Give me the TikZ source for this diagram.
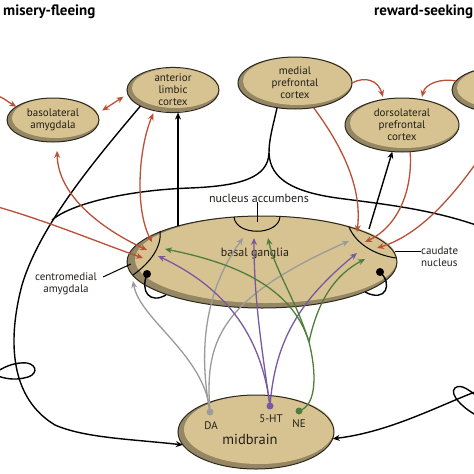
\documentclass[tikz,border=0pt]{standalone}
\usepackage{fontspec}
\setmainfont{PT Sans}
\usetikzlibrary{shapes.geometric,arrows.meta,calc}
\definecolor{tanc}{RGB}{215,195,145}
\definecolor{shadc}{RGB}{150,135,100}
\definecolor{outc}{RGB}{45,40,30}
\definecolor{textc}{RGB}{35,30,25}
\definecolor{redc}{RGB}{185,80,55}
\definecolor{purc}{RGB}{120,90,160}
\definecolor{grnc}{RGB}{80,125,60}
\definecolor{grayc}{RGB}{155,155,155}
\tikzset{
  txt/.style={font=\fontsize{11}{12}\selectfont, text=textc, align=center, inner sep=0pt},
  midtxt/.style={font=\fontsize{12}{13}\selectfont, text=textc, align=center, inner sep=0pt},
  bigtxt/.style={font=\fontsize{14.5}{16}\selectfont, text=textc, align=center, inner sep=0pt},
  title/.style={font=\fontsize{15}{17}\selectfont\bfseries, text=black, anchor=west, inner sep=0pt},
  blk/.style={draw=black, line width=1.4pt},
  tipk/.style={-{Stealth[length=7pt,width=6pt]}},
  redarr/.style={draw=redc, line width=1.3pt, -{Stealth[length=7pt,width=6pt]}},
  redboth/.style={draw=redc, line width=1.3pt, {Stealth[length=7pt,width=6pt]}-{Stealth[length=7pt,width=6pt]}},
  purarr/.style={draw=purc, line width=1.3pt, -{Stealth[length=7pt,width=6pt]}},
  grnarr/.style={draw=grnc, line width=1.3pt, -{Stealth[length=7pt,width=6pt]}},
  grayarr/.style={draw=grayc, line width=1.3pt, -{Stealth[length=7pt,width=6pt]}},
  sub/.style={draw=black, line width=1pt},
  dotn/.style={circle, inner sep=0pt, minimum size=7pt},
}
\newcommand\regionnode[8]{%
  \fill[shadc] (#2,#3) ellipse [x radius=#4, y radius=#5];
  \fill[tanc] (#2+#6,#3-#7) ellipse [x radius=#4-#6, y radius=#5-#7];
  \node[ellipse, draw=outc, line width=1pt, minimum width=2*#4, minimum height=2*#5,
        inner sep=0pt, outer sep=0pt, txt] (#1) at (#2,#3) {#8};
}
\begin{document}
\begin{tikzpicture}[x=1pt,y=-1pt]
\useasboundingbox (0,0) rectangle (474,474);
\fill[white] (0,0) rectangle (474,474);
\clip (0,0) rectangle (474,474);

% titles
\node[title] (t1) at (3,12) {misery-fleeing};
\node[title] (t2) at (374,12) {reward-seeking};

% regions
\regionnode{bg}{262}{262}{135}{46}{4}{2.5}{}
\regionnode{mid}{256}{432}{78}{37}{3}{2.5}{}
\regionnode{bla}{53}{120}{46}{22}{2.5}{2}{basolateral\\amygdala}
\regionnode{alc}{173}{90}{46}{22}{2.5}{2}{anterior\\limbic\\cortex}
\regionnode{mpfc}{295}{83}{57}{26}{2.5}{2}{medial\\prefrontal\\cortex}
\regionnode{dlpfc}{402}{125}{57}{27}{2.5}{2}{dorsolateral\\prefrontal\\cortex}
\regionnode{rnode}{507}{90}{55}{24}{2.5}{2}{}

% sub-region borders inside basal ganglia
\draw[sub] (160,231) .. controls (162,247) and (150,263) .. (133,275);
\draw[sub] (234,217) .. controls (236,236) and (278,236) .. (280,217);
\draw[sub] (349,227) .. controls (356,244) and (375,255) .. (396,258);

% named target points
\coordinate (cea1) at (152,242);
\coordinate (cea2) at (147,250);
\coordinate (cea3) at (143,258);
\coordinate (ceagr) at (133,281);
\coordinate (ceapu) at (158,256);
\coordinate (ceagn) at (165,249);
\coordinate (nacgr) at (243,238);
\coordinate (nacpu) at (254,238);
\coordinate (nacgn) at (268,238);
\coordinate (cau1) at (357,232);
\coordinate (cau2) at (365,242);
\coordinate (cau3) at (377,248);
\coordinate (caugr) at (349,241);
\coordinate (caupu) at (357,253);
\coordinate (caugn) at (365,259);
\coordinate (bgtop) at (178,226);
\coordinate (caudtop) at (369,229);
\coordinate (join) at (52,220);
\coordinate (split) at (269,153);
\coordinate (lin1) at (-2,96);
\coordinate (lin2) at (-2,207);
\coordinate (rin1) at (485,150);
\coordinate (rin2) at (480,390);
\coordinate (rout) at (495,232);
\coordinate (ceal) at (131,264);
\coordinate (nacl) at (257,222);
\coordinate (caul) at (395,251);

% labels
\node[midtxt] (lnac) at (259,198) {nucleus accumbens};
\node[midtxt] (lbg) at (255,254) {basal ganglia};
\node[txt] (lcea) at (66,284) {centromedial\\amygdala};
\node[txt, align=left, anchor=west] (lcau) at (421,257) {caudate\\nucleus};
\draw[sub] (lnac.south -| nacl) -- (nacl);
\draw[sub] (103,277) -- (ceal);
\draw[sub] (caul) -- (lcau.west |- caul);

% self loops
\fill[black] (147,274) circle [radius=4];
\draw[blk] (147,274) .. controls (140,292) and (150,304) .. (166,295);
\fill[black] (380,272) circle [radius=4];
\draw[blk] (380,272) .. controls (393,284) and (386,303) .. (365,292);

% black connectors
\draw[blk, tipk] (alc.south west) .. controls (95,160) and (40,225) .. (22,285)
   .. controls (10,330) and (5,395) .. (55,425)
   .. controls (85,438) and (130,439) .. (mid.190);
\draw[blk, tipk] (bgtop) -- (bgtop |- alc.south);
\draw[blk, tipk] (caudtop) -- (dlpfc.250);
\draw[blk] (mpfc.234) .. controls (272,130) and (269,140) .. (split);
\draw[blk] (split) .. controls (268,178) and (240,186) .. (190,188)
   .. controls (130,190) and (72,203) .. (join);
\draw[blk] (split) .. controls (270,180) and (295,192) .. (337,198)
   .. controls (390,205) and (440,210) .. (rout);
\draw[blk, tipk] (rin2) .. controls (440,405) and (390,432) .. (mid.-5);
\draw[blk] (478,416) .. controls (465,410) and (448,394) .. (455,388)
   .. controls (461,383) and (470,391) .. (478,397);
\draw[blk] (-2,371) .. controls (6,366) and (16,362) .. (27,363)
   .. controls (38,365) and (38,376) .. (24,378) .. controls (15,380) and (6,379) .. (-2,376);

% red connectors
\draw[redarr] (lin1) .. controls (4,98) and (8,102) .. (bla.160);
\draw[redboth, shorten <=6pt, shorten >=5pt] (bla.8) -- (alc.185);
\draw[redarr] (lin2) .. controls (50,222) and (100,243) .. (cea3);
\draw[redboth, shorten <=9pt] (bla.280) .. controls (58,195) and (100,228) .. (cea2);
\draw[redboth, shorten <=3pt] (alc.228) .. controls (138,150) and (135,210) .. (cea1);
\draw[redarr] (mpfc.307) .. controls (345,150) and (362,190) .. (cau1);
\draw[redarr] (dlpfc.287) .. controls (413,195) and (395,228) .. (cau2);
\draw[redarr] (rin1) .. controls (455,195) and (420,235) .. (cau3);
\draw[redarr] (mpfc.east) .. controls (365,76) and (378,80) .. (383,97);
\draw[redarr] (rnode.170) .. controls (440,78) and (425,84) .. (422,97);

% midbrain labels and dots
\node[bigtxt] (lmid) at (250,439) {midbrain};
\node[txt] (lda) at (211,426) {DA};
\node[txt] (lht) at (271,419) {5-HT};
\node[txt] (lne) at (299,424) {NE};

% gray (DA)
\draw[grayarr] (210,412) .. controls (205,355) and (140,320) .. (ceagr);
\draw[grayarr] (210,412) .. controls (198,350) and (205,290) .. (nacgr);
\draw[grayarr] (210,412) .. controls (205,345) and (215,300) .. (caugr);
\node[dotn, fill=grayc] (da) at (210,412) {};

% purple (5-HT)
\draw[purarr] (270,406) .. controls (262,340) and (230,290) .. (ceapu);
\draw[purarr] (270,406) .. controls (262,350) and (254,300) .. (nacpu);
\draw[purarr] (270,406) .. controls (275,340) and (300,300) .. (caupu);
\node[dotn, fill=purc] (ht) at (270,406) {};

% green (NE)
\draw[draw=grnc, line width=1.3pt] (299,411) .. controls (318,405) and (316,370) .. (309,342);
\draw[grnarr] (309,342) .. controls (292,285) and (230,262) .. (ceagn);
\draw[grnarr] (309,342) .. controls (296,300) and (275,270) .. (nacgn);
\draw[grnarr] (309,342) .. controls (318,300) and (335,275) .. (caugn);
\node[dotn, fill=grnc] (ne) at (299,411) {};
\end{tikzpicture}
\end{document}
